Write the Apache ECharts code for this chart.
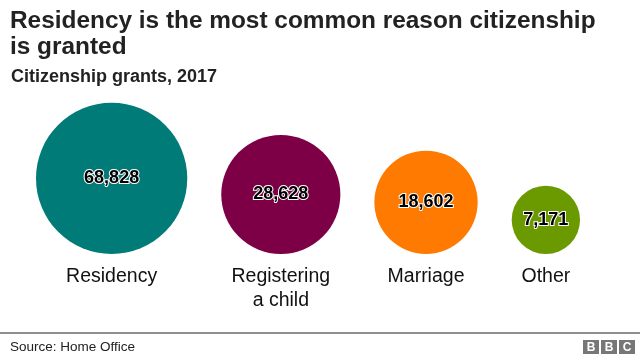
<!DOCTYPE html>
<html>
<head>
<meta charset="utf-8">
<script src="https://cdn.jsdelivr.net/npm/echarts@6/dist/echarts.min.js"></script>
<style>
html,body{margin:0;padding:0;background:#fff;}
#chart{width:640px;height:359px;}
</style>
</head>
<body>
<div id="chart"></div>
<script>
// ---- data ----
const categories = ['Residency', 'Registering\na child', 'Marriage', 'Other'];
const values = [68828, 28628, 18602, 7171];
const colors = ['#007b78', '#7d0046', '#ff7a00', '#6a9a00'];
const titleText = 'Residency is the most common reason citizenship\nis granted';
const subtitleText = 'Citizenship grants, 2017';
const sourceText = 'Source: Home Office';

// ---- size scale (log) and simple row packing ----
function diameter(v) { return 36.65 * Math.log(v) - 257.0; }
const startX = 36, gap = 34;
const centers = [];
let cursor = startX;
values.forEach(function (v) {
  const d = diameter(v);
  centers.push(cursor + d / 2);
  cursor += d + gap;
});

const bubbleData = values.map(function (v, i) {
  return { value: [centers[i], 0, v], itemStyle: { color: colors[i], opacity: 1 } };
});
const nameData = categories.map(function (c, i) {
  return { value: [centers[i], 0], name: c };
});

const FONT = 'Liberation Sans, Arial, sans-serif';
const chart = echarts.init(document.getElementById('chart'), null, { renderer: 'canvas' });
chart.setOption({
  animation: false,
  backgroundColor: '#ffffff',
  title: [
    {
      text: titleText, left: 10, top: 8, padding: 0,
      textStyle: { fontFamily: FONT, fontSize: 24.4, fontWeight: 'bold', color: '#222222', lineHeight: 26.5 }
    },
    {
      text: subtitleText, left: 11, top: 68, padding: 0,
      textStyle: { fontFamily: FONT, fontSize: 18, fontWeight: 'bold', color: '#222222' }
    }
  ],
  grid: { left: 0, right: 0, top: 90, bottom: 105 },
  xAxis: { type: 'value', min: 0, max: 640, show: false },
  yAxis: { type: 'value', min: 0, max: 1, show: false },
  series: [
    {
      type: 'scatter',
      clip: false,
      data: bubbleData,
      symbol: 'circle',
      symbolSize: function (val) { return diameter(val[2]); },
      symbolOffset: [0, '-50%'],
      itemStyle: { opacity: 1 },
      label: {
        show: true, position: 'inside',
        formatter: function (p) { return p.value[2].toLocaleString('en-GB'); },
        fontFamily: FONT,
        fontSize: 18, fontWeight: 'bold', color: '#000000',
        textBorderColor: '#ffffff', textBorderWidth: 2
      },
      emphasis: { disabled: true }
    },
    {
      type: 'scatter',
      clip: false,
      data: nameData,
      symbolSize: 0,
      itemStyle: { color: '#ffffff', opacity: 1 },
      label: {
        show: true, position: 'bottom', distance: 11,
        formatter: function (p) { return p.name; },
        fontFamily: FONT,
        fontSize: 19.5, color: '#111111', lineHeight: 24, align: 'center'
      },
      emphasis: { disabled: true }
    }
  ],
  graphic: [
    { type: 'rect', shape: { x: 0, y: 332, width: 640, height: 2 }, style: { fill: '#8f8f8f' } },
    { type: 'text', x: 10, y: 347, style: { text: sourceText, fontFamily: FONT, fontSize: 13.5, fill: '#222222', verticalAlign: 'middle' } },
    { type: 'rect', shape: { x: 583, y: 340, width: 16, height: 14 }, style: { fill: '#777777' } },
    { type: 'rect', shape: { x: 601, y: 340, width: 16, height: 14 }, style: { fill: '#777777' } },
    { type: 'rect', shape: { x: 619, y: 340, width: 16, height: 14 }, style: { fill: '#777777' } },
    { type: 'text', x: 591, y: 347.5, style: { text: 'B', fontFamily: FONT, fontSize: 12, fontWeight: 'bold', fill: '#ffffff', align: 'center', verticalAlign: 'middle' } },
    { type: 'text', x: 609, y: 347.5, style: { text: 'B', fontFamily: FONT, fontSize: 12, fontWeight: 'bold', fill: '#ffffff', align: 'center', verticalAlign: 'middle' } },
    { type: 'text', x: 627, y: 347.5, style: { text: 'C', fontFamily: FONT, fontSize: 12, fontWeight: 'bold', fill: '#ffffff', align: 'center', verticalAlign: 'middle' } }
  ]
});
</script>
</body>
</html>
